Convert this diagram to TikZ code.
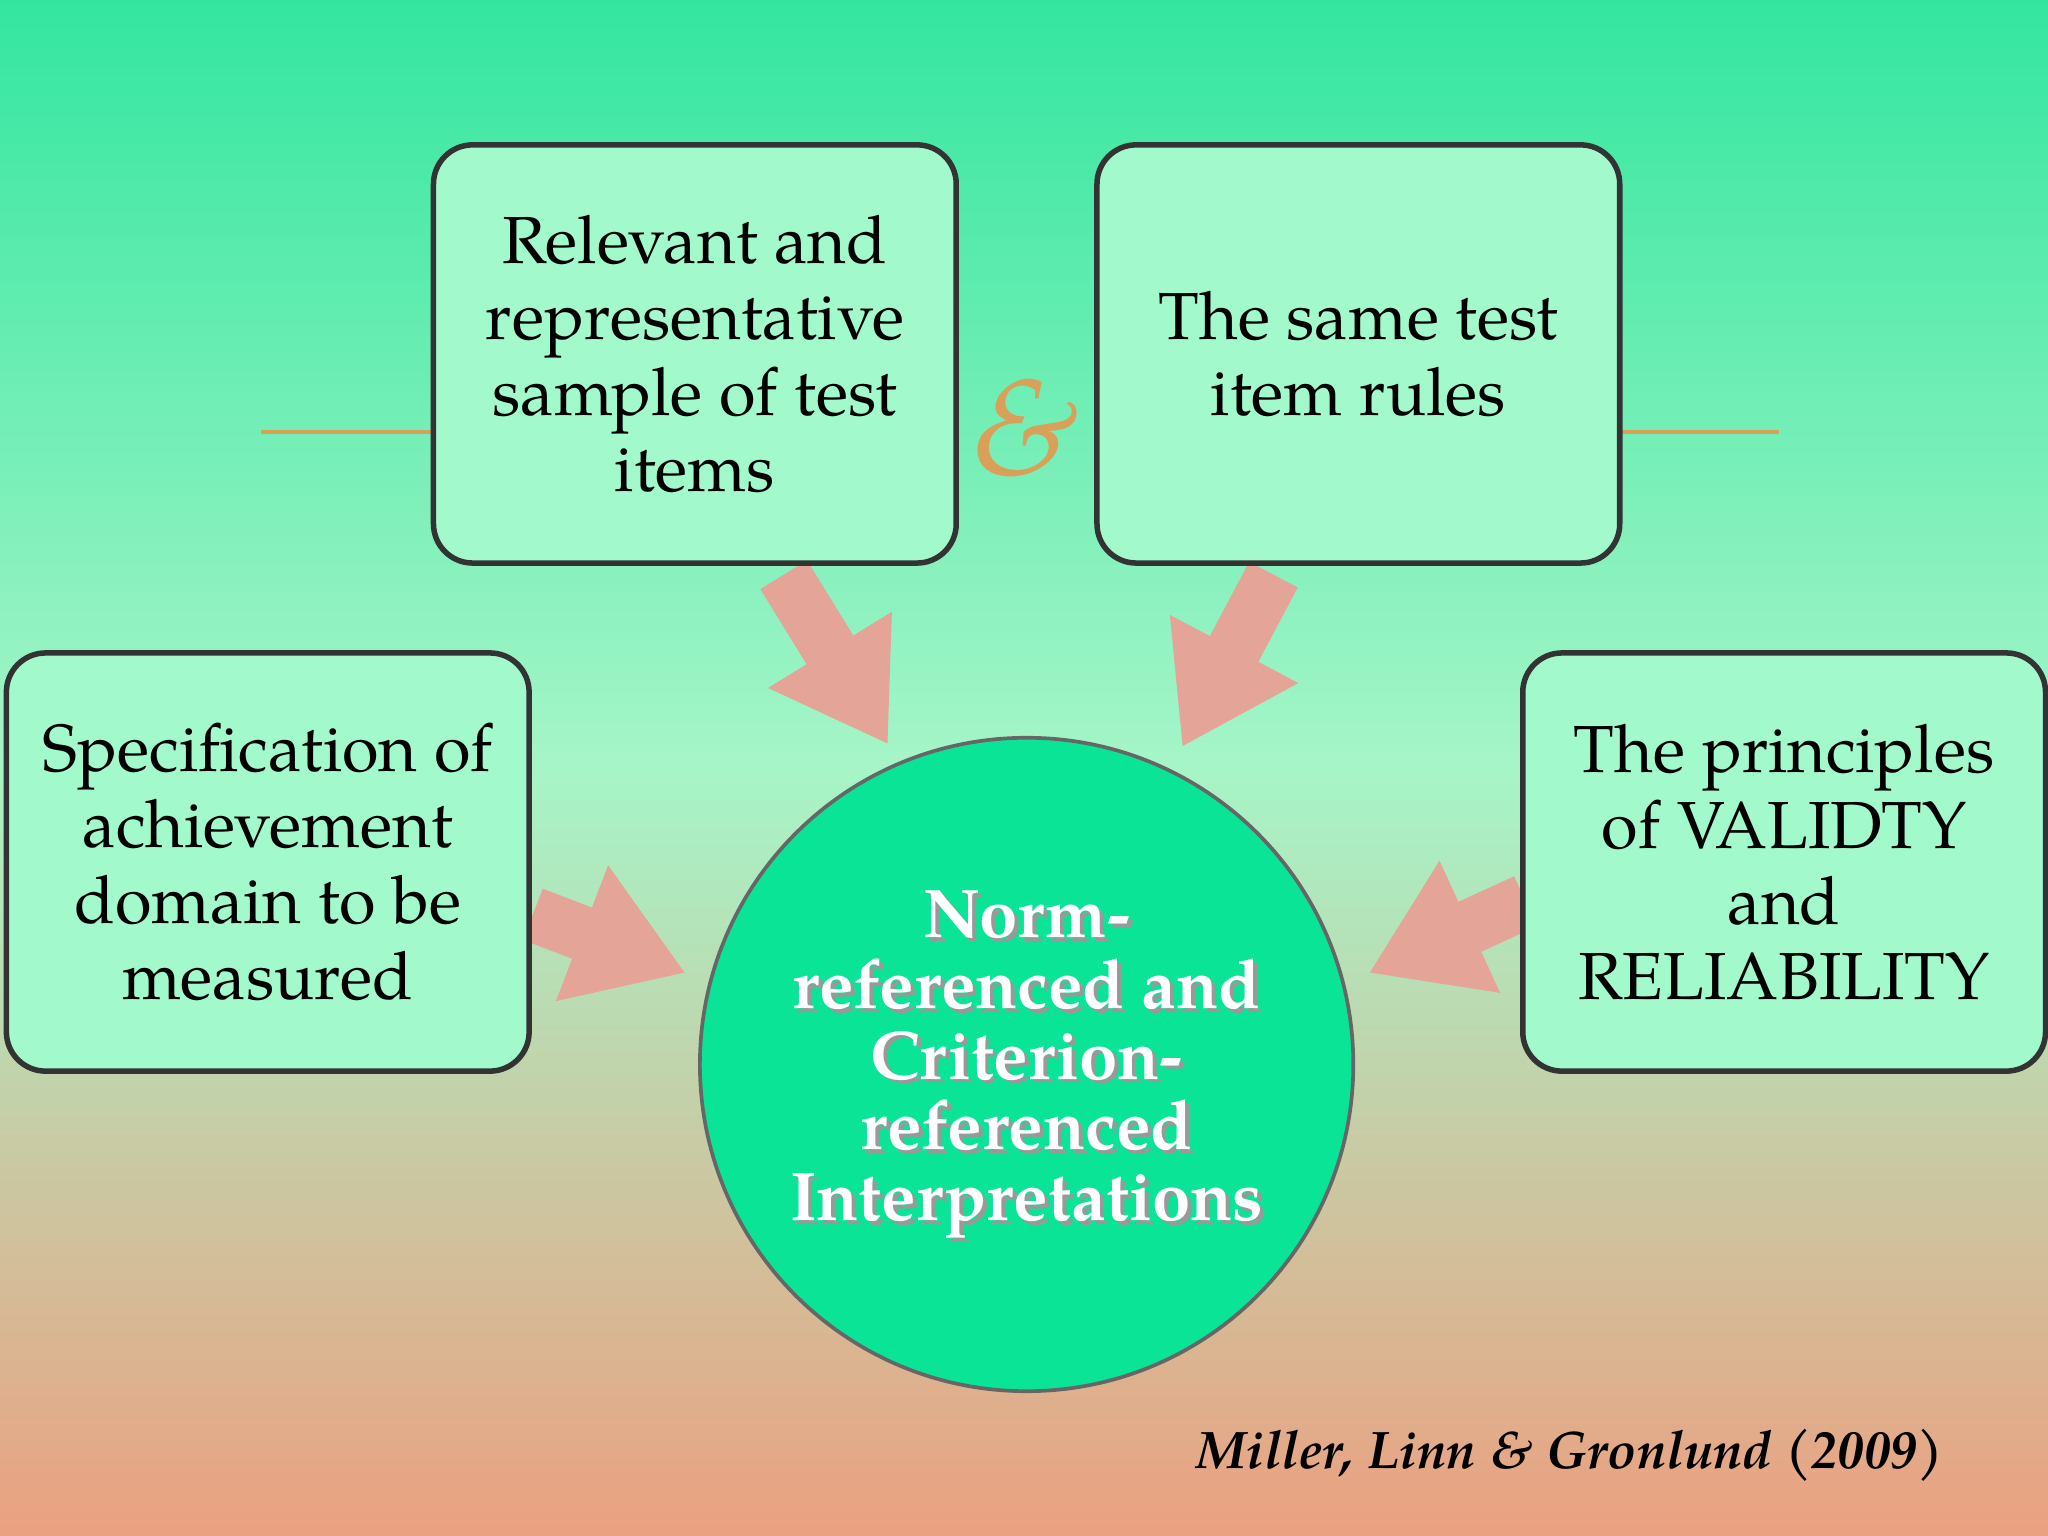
\documentclass[tikz,border=0pt]{standalone}
\usepackage{fontspec}
\setmainfont{TeX Gyre Pagella}
\usetikzlibrary{arrows.meta,shadows}
\definecolor{bgtop}{HTML}{33E6A0}
\definecolor{bgmid}{HTML}{A6F5C8}
\definecolor{bgbot}{HTML}{EBA080}
\definecolor{boxfill}{HTML}{A2F9CC}
\definecolor{circfill}{HTML}{0AE496}
\definecolor{arr}{HTML}{E5A498}
\definecolor{orn}{HTML}{D9A05A}
\tikzset{
 x=0.01cm,y=-0.01cm,
 box/.style={draw=black!80,line width=1.2pt,fill=boxfill,rounded corners=0.3cm,minimum width=4cm,minimum height=3.2cm,align=center,font=\fontsize{14.5}{16.5}\selectfont},
 bigarrow/.style={draw=arr,line width=0.42cm,-{Triangle[width=1.05cm,length=0.85cm]}},
}
\begin{document}
\begin{tikzpicture}
\useasboundingbox (0,0) rectangle (1568,1176);
\shade[top color=bgtop,bottom color=bgbot,middle color=bgmid] (0,0) rectangle (1568,1176);
\draw[orn,line width=0.8pt] (200,331) -- (331,331);
\draw[orn,line width=0.8pt] (1241,331) -- (1362,331);
\node[orn,font=\fontsize{30}{30}\selectfont\itshape] (ornament) at (785,328) {\&};
\draw[bigarrow] (600,440) -- (680,570);
\draw[bigarrow] (975,440) -- (905,572);
\draw[bigarrow] (408,700) -- (525,745);
\draw[bigarrow] (1168,690) -- (1048,745);
\node[box] (tl) at (532,271) {Relevant and\\representative\\sample of test\\items};
\node[box] (tr) at (1040,271) {The same test\\item rules};
\node[box] (l) at (205,660) {Specification of\\achievement\\domain to be\\measured};
\node[box] (r) at (1366,660) {The principles\\of VALIDTY\\and\\RELIABILITY};
\node[circle,draw=black!60,line width=0.8pt,fill=circfill,minimum size=5cm] (c) at (786,815) {};
\node[text=black!40,align=center,font=\bfseries\fontsize{15}{15.4}\selectfont] at (789,818) {Norm-\\referenced and\\Criterion-\\referenced\\Interpretations};
\node[text=white,align=center,font=\bfseries\fontsize{15}{15.4}\selectfont] (ct) at (786,815) {Norm-\\referenced and\\Criterion-\\referenced\\Interpretations};
\node[font=\bfseries\itshape\fontsize{11.5}{13}\selectfont,anchor=east] (cite) at (1500,1114) {Miller, Linn \& Gronlund (2009)};
\end{tikzpicture}
\end{document}
